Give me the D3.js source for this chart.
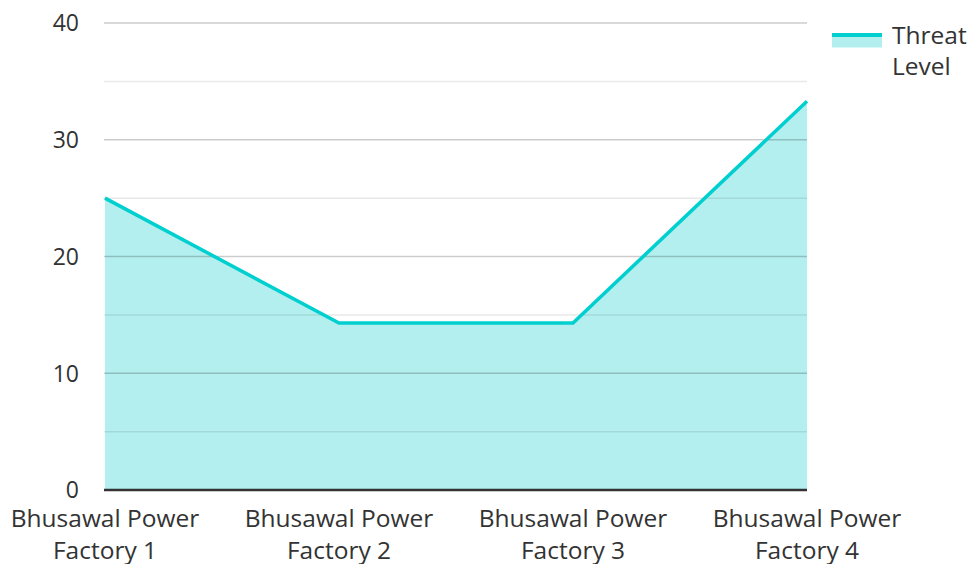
<!DOCTYPE html>
<html>
<head>
<meta charset="utf-8">
<script src="https://cdn.jsdelivr.net/npm/d3@7"></script>
<style>
  body { margin: 0; background: #fff; }
  text { font-family: "Open Sans", "Noto Sans", sans-serif; fill: #333; }
</style>
</head>
<body>
<div id="chart"></div>
<script>
const categories = ["Bhusawal Power Factory 1", "Bhusawal Power Factory 2", "Bhusawal Power Factory 3", "Bhusawal Power Factory 4"];
const threatLevel = [25, 14.3, 14.3, 33.3];
const yTicks = [0, 10, 20, 30, 40];
const yMinorTicks = [5, 15, 25, 35];
const seriesName = ["Threat", "Level"];

const width = 970, height = 564;
const margin = { top: 23, right: 163, bottom: 74, left: 105 };
const labelSize = 24.5;
const tickSize = 23;

const svg = d3.select("#chart").append("svg")
    .attr("width", width)
    .attr("height", height);

const x = d3.scalePoint()
    .domain(categories)
    .range([margin.left, width - margin.right]);

const y = d3.scaleLinear()
    .domain([0, 40])
    .range([height - margin.bottom, margin.top]);

// area under the line
const area = d3.area()
    .x((d, i) => x(categories[i]))
    .y0(y(0))
    .y1(d => y(d));

svg.append("path")
    .datum(threatLevel)
    .attr("d", area)
    .attr("fill", "#b2efee");

// gridlines on top of the fill
svg.selectAll(".minor").data(yMinorTicks).enter().append("line")
    .attr("x1", margin.left - 1)
    .attr("x2", width - margin.right)
    .attr("y1", d => y(d))
    .attr("y2", d => y(d))
    .attr("stroke", "rgba(0,0,0,0.09)")
    .attr("stroke-width", 1.5);

svg.selectAll(".major").data(yTicks.filter(d => d > 0)).enter().append("line")
    .attr("x1", margin.left - 1)
    .attr("x2", width - margin.right)
    .attr("y1", d => y(d))
    .attr("y2", d => y(d))
    .attr("stroke", "rgba(0,0,0,0.2)")
    .attr("stroke-width", 1.5);

const line = d3.line()
    .x((d, i) => x(categories[i]))
    .y(d => y(d));

svg.append("path")
    .datum(threatLevel)
    .attr("d", line)
    .attr("fill", "none")
    .attr("stroke", "#00cfd0")
    .attr("stroke-width", 3.5);

// x axis line
svg.append("line")
    .attr("x1", margin.left - 1)
    .attr("x2", width - margin.right)
    .attr("y1", y(0))
    .attr("y2", y(0))
    .attr("stroke", "#333")
    .attr("stroke-width", 2.5);

// y tick labels
svg.selectAll(".ylab").data(yTicks).enter().append("text")
    .attr("x", 79)
    .attr("y", d => y(d))
    .attr("dy", "0.36em")
    .attr("text-anchor", "end")
    .style("font-size", tickSize + "px")
    .text(d => d);

// x labels, two lines each
svg.selectAll(".xlab").data(categories).enter().append("text")
    .attr("text-anchor", "middle")
    .style("font-size", labelSize + "px")
    .each(function (d) {
        const words = d.split(" ");
        const lines = [words.slice(0, 2).join(" "), words.slice(2).join(" ")];
        d3.select(this).selectAll("tspan").data(lines).enter().append("tspan")
            .attr("x", x(d))
            .attr("y", (l, i) => 527 + i * 32)
            .text(l => l);
    });

// legend
const lg = svg.append("g").attr("transform", "translate(832,35)");
lg.append("rect").attr("x", 0).attr("y", 0).attr("width", 50).attr("height", 12.5).attr("fill", "#b2efee");
lg.append("line").attr("x1", 0).attr("x2", 50).attr("y1", 0).attr("y2", 0)
    .attr("stroke", "#00cfd0").attr("stroke-width", 4);
lg.selectAll("text").data(seriesName).enter().append("text")
    .attr("x", 60)
    .attr("y", (d, i) => 9 + i * 31)
    .style("font-size", labelSize + "px")
    .text(d => d);
</script>
</body>
</html>
